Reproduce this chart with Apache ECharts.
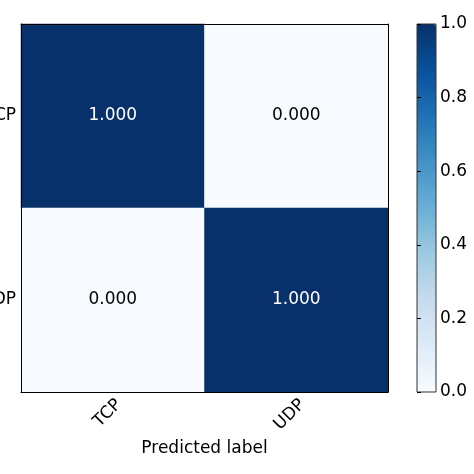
<!DOCTYPE html>
<html><head><meta charset="utf-8">
<script src="https://cdn.jsdelivr.net/npm/echarts@6/dist/echarts.min.js"></script>
<style>html,body{margin:0;padding:0;background:#fff}#c{width:474px;height:474px}</style>
</head><body><div id="c"></div>
<script>
const predictedLabels = ['TCP', 'UDP'];
const trueLabels = ['TCP', 'UDP'];
const matrix = [
  [1.0, 0.0],
  [0.0, 1.0]
];
const colorbarTicks = [0.0, 0.2, 0.4, 0.6, 0.8, 1.0];
const blues = ['#f7fbff','#deebf7','#c6dbef','#9ecae1','#6baed6','#4292c6','#2171b5','#08519c','#08306b'];

const data = [];
matrix.forEach((row, i) => row.forEach((v, j) => {
  data.push({ value: [j, i, v], label: { color: v > 0.5 ? '#ffffff' : '#000000' } });
}));

const FONT = 'DejaVu Sans';
const chart = echarts.init(document.getElementById('c'), null, { renderer: 'canvas' });
const L = 21, T = 24, W = 367, H = 368;
const CBL = 417, CBW = 19;
chart.setOption({
  animation: false,
  textStyle: { fontFamily: FONT },
  grid: [
    { left: L, top: T, width: W, height: H, containLabel: false, outerBoundsMode: 'none' },
    { left: CBL, top: T, width: CBW, height: H, containLabel: false, outerBoundsMode: 'none',
      show: true, borderColor: '#333', borderWidth: 1, backgroundColor: 'transparent', z: 10 }
  ],
  xAxis: [
    { type: 'category', gridIndex: 0, data: predictedLabels, z: 5,
      axisLine: { lineStyle: { color: '#000', width: 1 } },
      axisTick: { alignWithLabel: true, length: 4, inside: false, lineStyle: { color: '#000' } },
      axisLabel: { rotate: 45, fontSize: 17, color: '#000', margin: 4, verticalAlign: 'top', fontFamily: FONT },
      splitLine: { show: false }, splitArea: { show: false },
      name: 'Predicted label', nameLocation: 'middle', nameGap: 48,
      nameTextStyle: { fontSize: 17, color: '#000', fontFamily: FONT } },
    { type: 'category', gridIndex: 0, data: predictedLabels, position: 'top', z: 5,
      axisLine: { lineStyle: { color: '#000', width: 1 } },
      axisTick: { show: false }, axisLabel: { show: false } },
    { type: 'value', gridIndex: 1, min: 0, max: 1, show: false }
  ],
  yAxis: [
    { type: 'category', gridIndex: 0, data: trueLabels, inverse: true, z: 5,
      axisLine: { lineStyle: { color: '#000', width: 1 } },
      axisTick: { alignWithLabel: true, length: 4, inside: false, lineStyle: { color: '#000' } },
      axisLabel: { fontSize: 17, color: '#000', margin: 5, padding: [4, 0, 0, 0], fontFamily: FONT },
      splitLine: { show: false }, splitArea: { show: false } },
    { type: 'category', gridIndex: 0, data: trueLabels, inverse: true, position: 'right', z: 5,
      axisLine: { lineStyle: { color: '#000', width: 1 } },
      axisTick: { show: false }, axisLabel: { show: false } },
    { type: 'value', gridIndex: 1, min: 0, max: 1, interval: 0.2, position: 'right', z: 12,
      axisLine: { show: false },
      axisTick: { show: true, inside: false, length: 4, lineStyle: { color: '#000' } },
      axisLabel: { fontSize: 17, color: '#000', margin: 4, padding: [3, 0, 0, 0], fontFamily: FONT,
        formatter: v => colorbarTicks.some(t => Math.abs(t - v) < 1e-9) ? v.toFixed(1) : '' },
      splitLine: { show: false } }
  ],
  visualMap: {
    type: 'continuous', min: 0, max: 1, calculable: false, seriesIndex: 0,
    left: CBL, top: T, itemWidth: CBW, itemHeight: H, padding: 0,
    text: null, showLabel: false,
    inRange: { color: blues }
  },
  series: [{
    type: 'heatmap', xAxisIndex: 0, yAxisIndex: 0, data: data,
    label: { show: true, fontSize: 17, fontFamily: FONT, padding: [4, 0, 0, 0],
      formatter: p => p.value[2].toFixed(3) },
    itemStyle: { borderWidth: 0 },
    emphasis: { disabled: true }
  }]
});
</script></body></html>
